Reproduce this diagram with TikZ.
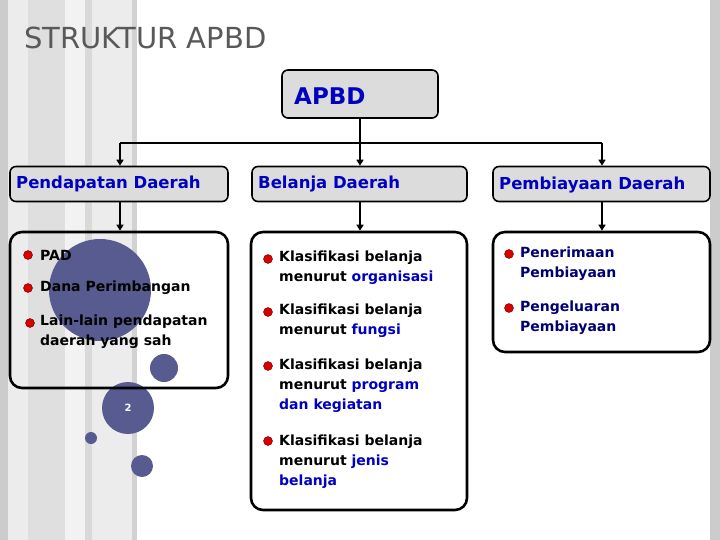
\documentclass[tikz,border=0pt]{standalone}
\usepackage{fontspec}
\setmainfont{DejaVu Sans}
\usetikzlibrary{arrows.meta}
\definecolor{hb}{HTML}{0000C0}
\definecolor{circ}{HTML}{575B8F}
\definecolor{hdr}{HTML}{DCDCDC}
\tikzset{
 x=1pt,y=-1pt,
 hbox/.style={draw=black,line width=1.6pt,rounded corners=6pt,fill=hdr},
 cbox/.style={draw=black,line width=2.6pt,rounded corners=12pt},
 conn/.style={line width=1.8pt,-{Triangle[length=6pt,width=7pt]}},
 dot/.style={circle,fill=red!85!black,draw=red!40!black,inner sep=0pt,minimum size=9pt},
 txt/.style={anchor=west,align=left,font=\fontsize{14}{20}\selectfont\bfseries,inner sep=0pt},
 ht/.style={anchor=west,font=\fontsize{16.5}{20}\selectfont\bfseries,text=hb,inner sep=0pt},
 bub/.style={circle,fill=circ,inner sep=0pt},
}
\begin{document}
\begin{tikzpicture}
\useasboundingbox (0,0) rectangle (720,540);
\fill[white] (0,0) rectangle (720,540);
% background stripes
\fill[gray!15] (8,0) rectangle (135,540);
\fill[gray!25] (28,0) rectangle (65,540);
\fill[gray!10] (65,0) rectangle (85,540);
\fill[gray!30] (85,0) rectangle (92,540);
\fill[gray!35] (132,0) rectangle (137,540);
\fill[gray!40] (0,0) rectangle (8,540);
\fill[gray!40] (710,0) rectangle (720,540);
\node[anchor=west,text=gray!70!black,font=\fontsize{29}{32}\selectfont,inner sep=0pt] (title) at (24,38) {STRUKTUR APBD};
% bubbles
\node[bub,minimum size=102pt] (b1) at (100,290) {};
\node[bub,minimum size=28pt] (b2) at (164,368) {};
\node[bub,minimum size=52pt,text=white,font=\fontsize{10}{12}\selectfont\bfseries] (b3) at (128,408) {2};
\node[bub,minimum size=12pt] (b4) at (91,438) {};
\node[bub,minimum size=22pt] (b5) at (142,466) {};
% boxes
\node[hbox,minimum width=156pt,minimum height=48pt] (apbd) at (360,94) {};
\node[ht,font=\fontsize{23}{26}\selectfont\bfseries] (apbdt) at (294,96) {APBD};
\node[hbox,minimum width=218pt,minimum height=35pt] (h1) at (119,184) {};
\node[hbox,minimum width=215pt,minimum height=35pt] (h2) at (359.5,184) {};
\node[hbox,minimum width=217pt,minimum height=35pt] (h3) at (601.5,184) {};
\node[ht] (h1t) at (16,184) {Pendapatan Daerah};
\node[ht] (h2t) at (258,184) {Belanja Daerah};
\node[ht] (h3t) at (499,185) {Pembiayaan Daerah};
\node[cbox,minimum width=218pt,minimum height=156pt] (c1) at (119,310) {};
\node[cbox,minimum width=216pt,minimum height=278pt] (c2) at (359,371) {};
\node[cbox,minimum width=217pt,minimum height=120pt] (c3) at (601.5,292) {};
% connectors
\coordinate (j) at (360,143);
\coordinate (jl) at (120,143);
\coordinate (jr) at (602,143);
\draw[line width=1.8pt] (apbd.south) -- (j);
\draw[line width=1.8pt] (jl) -- (jr);
\draw[conn] (jl) -- (h1.north -| jl);
\draw[conn] (j) -- (h2.north -| j);
\draw[conn] (jr) -- (h3.north -| jr);
\draw[conn] (h1.south -| jl) -- (c1.north -| jl);
\draw[conn] (h2.south -| j) -- (c2.north -| j);
\draw[conn] (h3.south -| jr) -- (c3.north -| jr);
% left items
\node[dot] (d1) at (28,255) {}; \node[txt] (t1) at (40,255) {PAD};
\node[dot] (d2) at (28,288) {}; \node[txt] (t2) at (40,288) {Dana Perimbangan};
\node[dot] (d3) at (30,323) {}; \node[txt] (t3) at (40,332) {Lain-lain pendapatan\\daerah yang sah};
% middle items
\node[dot] (m1) at (268,259) {}; \node[txt] (mt1) at (279,268) {Klasifikasi belanja\\menurut \textcolor{hb}{organisasi}};
\node[dot] (m2) at (268,312) {}; \node[txt] (mt2) at (279,321) {Klasifikasi belanja\\menurut \textcolor{hb}{fungsi}};
\node[dot] (m3) at (268,366) {}; \node[txt] (mt3) at (279,386) {Klasifikasi belanja\\menurut \textcolor{hb}{program}\\\textcolor{hb}{dan kegiatan}};
\node[dot] (m4) at (268,441) {}; \node[txt] (mt4) at (279,462) {Klasifikasi belanja\\menurut \textcolor{hb}{jenis}\\\textcolor{hb}{belanja}};
% right items
\node[dot] (r1) at (509,254) {}; \node[txt,text=hb!60!black] (rt1) at (520,264) {Penerimaan\\Pembiayaan};
\node[dot] (r2) at (509,308) {}; \node[txt,text=hb!60!black] (rt2) at (520,318) {Pengeluaran\\Pembiayaan};
\end{tikzpicture}
\end{document}
